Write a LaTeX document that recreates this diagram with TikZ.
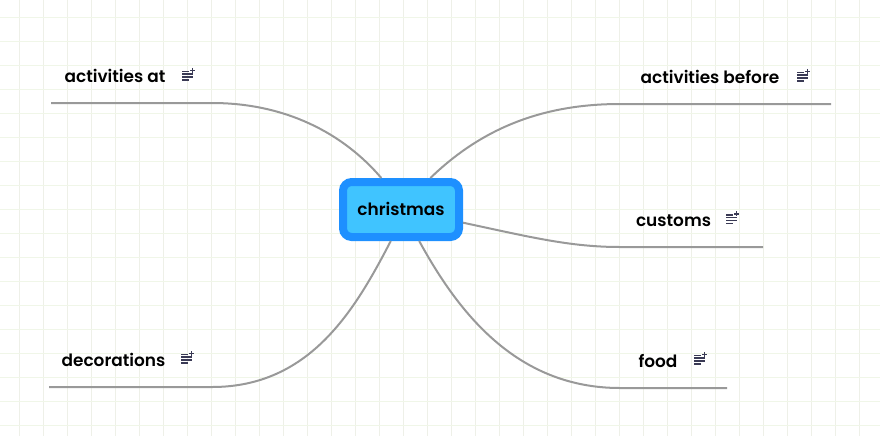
\documentclass[tikz,border=0pt]{standalone}
\usepackage{fontspec}
\setmainfont{Poppins}[BoldFont={Poppins SemiBold}]
\definecolor{gridv}{HTML}{EEF0E8}
\definecolor{gridh}{HTML}{F0F6E8}
\definecolor{branchline}{HTML}{999999}
\definecolor{hubedge}{HTML}{1E90FF}
\definecolor{hubfill}{HTML}{40C4FF}
\definecolor{iconink}{HTML}{3A3A55}
\tikzset{
  hub/.style={draw=hubedge,fill=hubfill,line width=6pt,rounded corners=6.5pt,
    minimum width=87pt,minimum height=41.25pt,inner sep=0pt,
    font=\bfseries\fontsize{12.7}{15}\selectfont},
  topic/.style={inner sep=0pt,font=\bfseries\fontsize{12.7}{15}\selectfont},
  branch/.style={draw=branchline,line width=1.5pt},
  noteicon/.pic={
    \draw[iconink,line width=1.1pt]
      (0,.3) -- (7,.3) (0,3.2) -- (11,3.2) (0,6.1) -- (11,6.1) (0,9) -- (7,9);
    \draw[iconink,line width=1.1pt]
      (8,-.7) -- (13,-.7) (10.5,-3.2) -- (10.5,1.8);
  }
}
\begin{document}
\begin{tikzpicture}[x=.75pt,y=-.75pt]
  \useasboundingbox (0,0) rectangle (880,436);
  \foreach \x in {19.5,43.5,...,880} \draw[gridv,line width=.75pt] (\x,0) -- (\x,436);
  \foreach \y in {17.5,41.5,...,436} \draw[gridh,line width=.75pt] (0,\y) -- (880,\y);
  \node[hub] (christmas) at (401,209.5) {\raisebox{.7pt}{christmas}};
  \node[topic] (activitiesat) at (115,76) {activities at};
  \node[topic] (activitiesbefore) at (710,77) {activities before};
  \node[topic] (customs) at (673.5,220.5) {customs};
  \node[topic] (decorations) at (113.5,360) {decorations};
  \node[topic] (food) at (658,361) {food};
  \coordinate (atend) at (51,103);
  \coordinate (beforeend) at (831,104);
  \coordinate (customsend) at (763,247);
  \coordinate (decorationsend) at (49,387);
  \coordinate (foodend) at (727,388);
  \draw[branch] (christmas.122) .. controls (343,133) and (285,103) .. (212,103) -- (atend);
  \draw[branch] (christmas.47) .. controls (480,130) and (540,104) .. (620,104) -- (beforeend);
  \draw[branch] (christmas.-12) .. controls (530,237) and (570,247) .. (620,247) -- (customsend);
  \draw[branch] (christmas.252) .. controls (355,310) and (310,387) .. (212,387) -- (decorationsend);
  \draw[branch] (christmas.-60) .. controls (457,310) and (515,388) .. (620,388) -- (foodend);
  \pic at (182,71) {noteicon};
  \pic at (797,72) {noteicon};
  \pic at (726,214.5) {noteicon};
  \pic at (181,354) {noteicon};
  \pic at (694,355) {noteicon};
\end{tikzpicture}
\end{document}
